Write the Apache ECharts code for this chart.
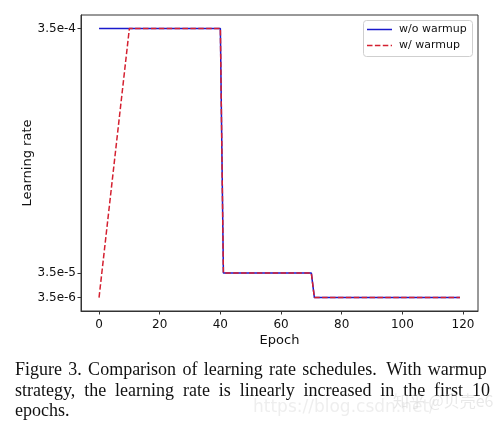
<!DOCTYPE html>
<html>
<head>
<meta charset="utf-8">
<script src="https://cdn.jsdelivr.net/npm/echarts@6/dist/echarts.min.js"></script>
<style>
html,body{margin:0;padding:0;background:#fff;}
#chart{width:503px;height:425px;}
</style>
</head>
<body>
<div id="chart"></div>
<script>
// ---- data ----
const seriesNames = ['w/o warmup', 'w/ warmup'];
const epochsWo = [0, 40, 41, 70, 71, 119];
const lrWo = [3.5e-4, 3.5e-4, 3.5e-5, 3.5e-5, 3.5e-6, 3.5e-6];
const epochsW = [0, 10, 40, 41, 70, 71, 119];
const lrW = [3.5e-6, 3.5e-4, 3.5e-4, 3.5e-5, 3.5e-5, 3.5e-6, 3.5e-6];
const xTicks = [0, 20, 40, 60, 80, 100, 120];
const yTicks = [3.5e-6, 3.5e-5, 3.5e-4];
const yTickLabels = ['3.5e-6', '3.5e-5', '3.5e-4'];
const captionLines = [
  'Figure 3. Comparison of learning rate schedules.  With warmup',
  'strategy, the learning rate is linearly increased in the first 10',
  'epochs.'
];

const chart = echarts.init(document.getElementById('chart'), null, {renderer: 'canvas'});
const sans = 'DejaVu Sans';
const serif = 'Liberation Serif';
const blue = '#1a1acc';
const red = '#d42030';

// justify caption lines by measuring words
const ctx = document.createElement('canvas').getContext('2d');
const capSize = 18;
ctx.font = capSize + 'px "' + serif + '"';
const capLeft = 15, capRight = 490;
const capBaselines = [377.5, 398.3, 418.5];
const captionGraphics = [];
captionLines.forEach((line, li) => {
  const words = line.split(' ');
  const widths = words.map(w => ctx.measureText(w).width);
  const total = widths.reduce((a, b) => a + b, 0);
  const last = li === captionLines.length - 1;
  const gap = last ? ctx.measureText(' ').width : (capRight - capLeft - total) / (words.length - 1);
  let x = capLeft;
  words.forEach((w, i) => {
    if (w.length) {
      captionGraphics.push({
        type: 'text', left: x, top: capBaselines[li] - capSize * 0.89, silent: true,
        style: {text: w, font: capSize + 'px "' + serif + '"', fill: '#111'}
      });
    }
    x += widths[i] + (w.length ? gap : gap * 0.5);
  });
});

// legend drawn as graphic (line samples, like matplotlib)
const legendGraphics = [
  {type: 'rect', shape: {x: 363.5, y: 20.5, width: 109, height: 36, r: 3}, silent: true, z: 50,
   style: {fill: 'rgba(255,255,255,0.9)', stroke: '#cfcfcf', lineWidth: 1}},
  {type: 'line', shape: {x1: 367, y1: 29.5, x2: 392, y2: 29.5}, silent: true, z: 51,
   style: {stroke: blue, lineWidth: 1.5}},
  {type: 'line', shape: {x1: 367, y1: 45.5, x2: 392, y2: 45.5}, silent: true, z: 51,
   style: {stroke: red, lineWidth: 1.5, lineDash: [5.5, 2.4]}},
  {type: 'text', x: 399, y: 29.5, silent: true, z: 51,
   style: {text: seriesNames[0], font: '11px "' + sans + '"', fill: '#111', verticalAlign: 'middle'}},
  {type: 'text', x: 399, y: 45.5, silent: true, z: 51,
   style: {text: seriesNames[1], font: '11px "' + sans + '"', fill: '#111', verticalAlign: 'middle'}}
];

const option = {
  animation: false,
  backgroundColor: '#fff',
  grid: {left: 81, right: 25, top: 15, bottom: 114, show: true, borderColor: '#333', borderWidth: 1, containLabel: false},
  xAxis: {
    type: 'value', min: -5.95, max: 124.95,
    name: 'Epoch', nameLocation: 'middle', nameGap: 23, nameMoveOverlap: false,
    nameTextStyle: {fontFamily: sans, fontSize: 13, color: '#111'},
    axisLine: {show: true, onZero: false, lineStyle: {color: '#333', width: 1}},
    axisTick: {show: true, length: 3.5, customValues: xTicks, lineStyle: {color: '#333'}},
    axisLabel: {customValues: xTicks, fontFamily: sans, fontSize: 12, color: '#111', margin: 8},
    splitLine: {show: false}
  },
  yAxis: {
    type: 'value', min: -13.825e-6, max: 367.325e-6,
    name: 'Learning rate', nameLocation: 'middle', nameGap: 47, nameRotate: 90, nameMoveOverlap: false,
    nameTextStyle: {fontFamily: sans, fontSize: 13, color: '#111'},
    axisLine: {show: true, onZero: false, lineStyle: {color: '#333', width: 1}},
    axisTick: {show: true, length: 3.5, customValues: yTicks, lineStyle: {color: '#333'}},
    axisLabel: {
      customValues: yTicks, fontFamily: sans, fontSize: 12, color: '#111', margin: 5,
      formatter: v => {
        let best = 0;
        yTicks.forEach((t, i) => { if (Math.abs(t - v) < Math.abs(yTicks[best] - v)) best = i; });
        return yTickLabels[best];
      }
    },
    splitLine: {show: false}
  },
  series: [
    {
      name: seriesNames[0], type: 'line', symbol: 'none', showSymbol: false,
      data: epochsWo.map((e, i) => [e, lrWo[i]]),
      lineStyle: {color: blue, width: 1.5},
      itemStyle: {color: blue}, z: 2
    },
    {
      name: seriesNames[1], type: 'line', symbol: 'none', showSymbol: false,
      data: epochsW.map((e, i) => [e, lrW[i]]),
      lineStyle: {color: red, width: 1.5, type: [5.5, 2.4]},
      itemStyle: {color: red}, z: 3
    }
  ],
  graphic: captionGraphics.concat(legendGraphics, [
    {type: 'text', left: 253, top: 399, silent: true, z: 100,
     style: {text: 'https://blog.csdn.net/', font: '17px "' + sans + '"', fill: 'rgba(200,200,200,0.3)'}},
    {type: 'text', left: 393, top: 393, silent: true, z: 101,
     style: {text: '知乎 @贝壳e6', font: '16px "Noto Sans CJK SC"', fill: 'rgba(200,200,200,0.4)'}}
  ])
};
chart.setOption(option);
</script>
</body>
</html>
